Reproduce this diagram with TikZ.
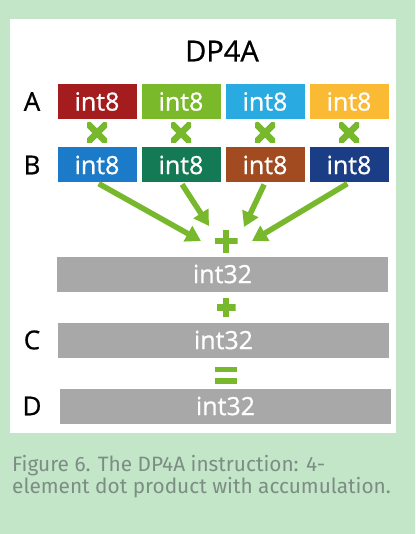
\documentclass[tikz,border=0pt]{standalone}
\usepackage{fontspec}
\usepackage{tikz}
\usetikzlibrary{arrows.meta,positioning}
\newfontfamily\diagfont[FakeBold=0.8]{Open Sans}
\newfontfamily\capfont{Fira Sans}
\definecolor{bgback}{HTML}{C3E5C8}
\definecolor{capgray}{HTML}{7C8D84}
\definecolor{accent}{HTML}{77B82C}
\definecolor{bargray}{HTML}{A8A8A8}
\definecolor{cA1}{HTML}{A51C1F}
\definecolor{cA2}{HTML}{7AB929}
\definecolor{cA3}{HTML}{29ABE2}
\definecolor{cA4}{HTML}{FBBA33}
\definecolor{cB1}{HTML}{1C7BC9}
\definecolor{cB2}{HTML}{137A55}
\definecolor{cB3}{HTML}{A24B20}
\definecolor{cB4}{HTML}{1B3D86}
\tikzset{
  cell/.style={minimum width=79pt,minimum height=35pt,inner sep=0pt,text=white,
    font=\diagfont\fontsize{25}{25}\selectfont},
  wide/.style={cell,fill=bargray,minimum width=331pt},
  rowlabel/.style={font=\diagfont\fontsize{26}{26}\selectfont,inner sep=0pt},
  timesmark/.style={minimum size=20pt,inner sep=0pt,path picture={
    \draw[accent,line width=6.5pt]
      (path picture bounding box.north west) -- (path picture bounding box.south east)
      (path picture bounding box.north east) -- (path picture bounding box.south west);}},
  plusmark/.style={minimum size=#1,inner sep=0pt,path picture={
    \draw[accent,line width=6.5pt]
      (path picture bounding box.north) -- (path picture bounding box.south)
      (path picture bounding box.west) -- (path picture bounding box.east);}},
  equalmark/.style={minimum width=22pt,minimum height=17pt,inner sep=0pt,path picture={
    \fill[accent] (path picture bounding box.north west) rectangle ([yshift=-5.5pt]path picture bounding box.north east);
    \fill[accent] (path picture bounding box.south west) rectangle ([yshift=5.5pt]path picture bounding box.south east);}},
  flow/.style={accent,line width=5.5pt,-{Triangle[length=15pt,width=17pt]}}
}
\begin{document}
\begin{tikzpicture}[x=1pt,y=-1pt]
  \fill[bgback] (0,0) rectangle (415,534);
  \fill[white] (10,19) rectangle (396,433);
  \node[font=\diagfont\fontsize{29}{29}\selectfont,inner sep=0pt] (title) at (222,51) {DP4A};
  % operand rows
  \foreach \c [count=\i] in {cA1,cA2,cA3,cA4}
    \node[cell,fill=\c] (a\i) at ({97+84*(\i-1)},101.5) {int8};
  \foreach \c [count=\i] in {cB1,cB2,cB3,cB4}
    \node[cell,fill=\c] (b\i) at ({97+84*(\i-1)},165) {int8};
  \foreach \i in {1,...,4}
    \node[timesmark] (m\i) at ({97+84*(\i-1)},133) {};
  \node[rowlabel] (la) at (32,101.5) {A};
  \node[rowlabel] (lb) at (32,165) {B};
  % reduction
  \node[plusmark=23pt] (sum) at (226,241) {};
  \coordinate (e1) at (201,241);
  \coordinate (e2) at (209,226);
  \coordinate (e3) at (244,227);
  \coordinate (e4) at (252,241);
  \foreach \i in {1,...,4}
    \draw[flow,shorten <=2pt] (b\i.south) -- (e\i);
  \node[wide] (s) at (222.5,274) {int32};
  \node[plusmark=19pt] (acc) at (226,307.5) {};
  \node[wide] (c) at (223.5,340) {int32};
  \node[equalmark] (eq) at (226,375) {};
  \node[wide] (d) at (225.5,406) {int32};
  \node[rowlabel] (lc) at (32,340) {C};
  \node[rowlabel] (ld) at (32,406) {D};
  \node[anchor=north west,inner sep=0pt,align=left,text=capgray,
    font=\capfont\fontsize{20.8}{22}\selectfont] (caption) at (12,455)
    {Figure 6. The DP4A instruction: 4-\\element dot product with accumulation.};
\end{tikzpicture}
\end{document}
